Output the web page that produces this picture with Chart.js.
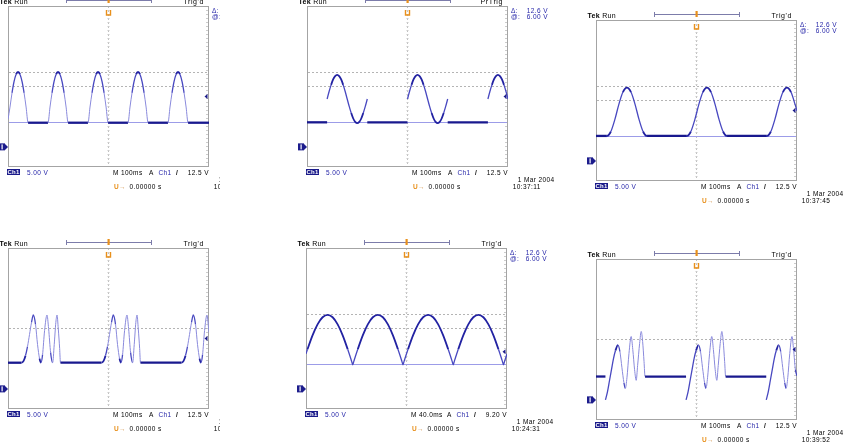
<!DOCTYPE html>
<html><head><meta charset="utf-8">
<script src="https://cdn.jsdelivr.net/npm/chart.js@4.4.0/dist/chart.umd.min.js"></script>
<style>
html,body{margin:0;padding:0;background:#fff;width:844px;height:444px;overflow:hidden;position:relative;}
.panel{position:absolute;overflow:hidden;height:200px;}
.panel canvas{position:absolute;left:0;top:0;}
.t{position:absolute;font-family:'Liberation Sans',Arial,sans-serif;font-size:6.5px;line-height:7px;height:7px;white-space:nowrap;color:#000;letter-spacing:0.4px;}
</style></head><body>
<script>
// ---------------- DATA ----------------
const panelDate = '1 Mar 2004';
const panelTimes = ['10:35:54','10:37:11','10:37:45','10:36:27','10:24:31','10:39:52'];
const trigStatus = ["Trig'd","PrTrig","Trig'd","Trig'd","Trig'd","Trig'd"];
const msPerDiv = [100,100,100,100,40,100];
const timeBaseLabel = ['M 100ms','M 100ms','M 100ms','M 100ms','M 40.0ms','M 100ms'];
const voltsPerDiv = 5.00;
const trigLevel = [12.5,12.5,12.5,12.5,9.20,12.5];
const cursorA = [18.6,18.6,18.6,null,18.6,null];
const cursorB = [6.0,6.0,6.0,null,6.0,null];
const trigPosition = [0,0,0,0,0,0];

// Panel 1: half-wave rectified (time ms, volts)
const p1T = [-500,-490,-480,-470,-460,-450,-440,-430,-420,-410,-400,
  -301,-291,-281,-271,-261,-251,-241,-231,-221,-211,-201,
  -102,-92,-82,-72,-62,-52,-42,-32,-22,-12,-2,
  97,107,117,127,137,147,157,167,177,187,197,
  296,306,316,326,336,346,356,366,376,386,396,500];
const p1V = [6.8,9.9,13.4,16.2,18.0,18.6,18.0,16.2,13.4,9.9,6.0,
  6.0,9.9,13.4,16.2,18.0,18.6,18.0,16.2,13.4,9.9,6.0,
  6.0,9.9,13.4,16.2,18.0,18.6,18.0,16.2,13.4,9.9,6.0,
  6.0,9.9,13.4,16.2,18.0,18.6,18.0,16.2,13.4,9.9,6.0,
  6.0,9.9,13.4,16.2,18.0,18.6,18.0,16.2,13.4,9.9,6.0,6.0];

// Panel 2: gated sine
const p2T = [-500,-400,-400,
  -400,-390,-380,-370,-360,-350,-340,-330,-320,-310,-300,-290,-280,-270,-260,-250,-240,-230,-220,-210,-200,
  -200,-200,0,0,
  0,10,20,30,40,50,60,70,80,90,100,110,120,130,140,150,160,170,180,190,200,
  200,200,400,400,
  400,410,420,430,440,450,460,470,480,490,500];
const p2V = [6.1,6.1,null,
  11.9,13.75,15.4,16.75,17.6,17.9,17.6,16.75,15.4,13.75,11.9,10.05,8.4,7.05,6.2,5.9,6.2,7.05,8.4,10.05,11.9,
  null,6.1,6.1,null,
  11.9,13.75,15.4,16.75,17.6,17.9,17.6,16.75,15.4,13.75,11.9,10.05,8.4,7.05,6.2,5.9,6.2,7.05,8.4,10.05,11.9,
  null,6.1,6.1,null,
  11.9,13.75,15.4,16.75,17.6,17.9,17.6,16.75,15.4,13.75,11.9];

// Panel 3: smooth pulses
const p3T = [-500,-446,-426,-406,-386,-366,-346,-326,-306,-286,-266,-246,
  -48,-28,-8,12,32,52,72,92,112,132,152,
  350,370,390,410,430,450,470,490,500];
const p3V = [6.2,6.2,7.3,10.3,14.1,17.1,18.2,17.1,14.1,10.3,7.3,6.2,
  6.2,7.3,10.3,14.1,17.1,18.2,17.1,14.1,10.3,7.3,6.2,
  6.2,7.3,10.3,14.1,17.1,18.2,17.1,14.1,12.4];

// Panel 4: bursts
const p4T = [-500,
  -433,-423,-413,-403,-393,-383,-374,-363,-353,-343,-336,-328,-318,-306,-298,-288,-278,-270,-262,-256,-250,-243,-239,
  -35,-25,-15,-5,5,15,24,35,45,55,62,70,80,92,100,110,120,128,136,142,148,155,159,
  363,373,383,393,403,413,422,433,443,453,460,468,478,490,498,500];
const p4V = [6.5,
  6.5,6.9,8.25,10.5,13.5,16.5,18.35,16.0,11.0,7.5,6.5,8.5,14.5,18.35,15.0,9.0,6.5,11.0,16.5,18.35,15.0,10.0,6.5,
  6.5,6.9,8.25,10.5,13.5,16.5,18.35,16.0,11.0,7.5,6.5,8.5,14.5,18.35,15.0,9.0,6.5,11.0,16.5,18.35,15.0,10.0,6.5,
  6.5,6.9,8.25,10.5,13.5,16.5,18.35,16.0,11.0,7.5,6.5,8.5,14.5,18.35,15.0,14.0];

// Panel 5: full-wave rectified (40 ms/div)
const p5T = [-200,-197,-187,-177,-167,-157,-147,-137,-127,-117,-109,-107,
  -105,-97,-87,-77,-67,-57,-47,-37,-27,-17,-9,-7,
  -5,3,13,23,33,43,53,63,73,83,91,93,
  95,103,113,123,133,143,153,163,173,183,191,193,
  195,200];
const p5V = [8.7,9.83,13.29,16.03,17.79,18.4,17.79,16.03,13.29,9.83,6.78,6.0,
  6.78,9.83,13.29,16.03,17.79,18.4,17.79,16.03,13.29,9.83,6.78,6.0,
  6.78,9.83,13.29,16.03,17.79,18.4,17.79,16.03,13.29,9.83,6.78,6.0,
  6.78,9.83,13.29,16.03,17.79,18.4,17.79,16.03,13.29,9.83,6.78,6.0,
  6.78,8.7];

// Panel 6: offset bursts
const p6T = [-500,-453,-453,
  -453,-443,-433,-423,-413,-403,-391,-381,-371,-361,-354,-346,-336,-325,-317,-308,-300,-293,-283,-275,-268,-261,-256,
  -52,-52,
  -52,-42,-32,-22,-12,-2,10,20,30,40,47,55,65,76,84,93,101,108,118,126,133,140,145,
  347,347,
  347,357,367,377,387,397,409,419,429,439,446,454,464,475,483,492,500];
const p6V = [5.8,5.8,null,
  0.0,2.0,4.75,7.5,10.25,12.25,13.6,12.0,8.0,4.25,2.85,5.5,11.5,15.75,12.5,7.5,4.85,8.5,14.0,17.0,14.5,9.5,5.8,
  5.8,null,
  0.0,2.0,4.75,7.5,10.25,12.25,13.6,12.0,8.0,4.25,2.85,5.5,11.5,15.75,12.5,7.5,4.85,8.5,14.0,17.0,14.5,9.5,5.8,
  5.8,null,
  0.0,2.0,4.75,7.5,10.25,12.25,13.6,12.0,8.0,4.25,2.85,5.5,11.5,15.75,12.5,7.5,6.0];

const traceT = [p1T,p2T,p3T,p4T,p5T,p6T];
const traceV = [p1V,p2V,p3V,p4V,p5V,p6V];

// ---------------- LAYOUT ----------------
const frames = [
  {L:8,T:6,clip:220},{L:307,T:6,clip:844},{L:596,T:20,clip:844},
  {L:8,T:248,clip:220},{L:306,T:248,clip:844},{L:596,T:259,clip:844}
];
const PADL=10, PADT=10, PADR=12, PADB=4, FW=201, FH=161;
const BLUE='#2424a8', ORANGE='#e8901c';

function segWidth(c){
  const dx=Math.abs(c.p1.x-c.p0.x)||0.01, s=Math.abs(c.p1.y-c.p0.y)/dx;
  return s<0.25?2.3:s<3?1.8:s<6?1.3:1.0;
}
function segColor(c){
  const dx=Math.abs(c.p1.x-c.p0.x)||0.01, s=Math.abs(c.p1.y-c.p0.y)/dx;
  return s<0.25?'#18188e':s<3?'#2222a2':s<6?'#4848c0':'#8a8adc';
}

const scopePlugin = {
  id:'scope',
  beforeDatasetsDraw(chart){
    const o = chart.options.plugins.scope;
    const {ctx, chartArea:a, scales:{x,y}} = chart;
    ctx.save();
    ctx.lineWidth=1;
    // frame
    ctx.strokeStyle='#a4a4a4'; ctx.setLineDash([]);
    ctx.strokeRect(a.left+0.5,a.top+0.5,a.right-a.left-1,a.bottom-a.top-1);
    const cx=Math.floor(x.getPixelForValue((x.min+x.max)/2))+0.5;
    const cy=Math.floor(y.getPixelForValue((y.min+y.max)/2))+0.5;
    // center vertical
    ctx.strokeStyle='#c0c0c0';
    ctx.setLineDash([1,3]);
    ctx.beginPath(); ctx.moveTo(cx,a.top+1); ctx.lineTo(cx,a.bottom-1); ctx.stroke();
    ctx.setLineDash([]);
    ctx.strokeStyle='#cccccc';
    ctx.beginPath();
    for(let v=y.min+1; v<y.max; v+=1){
      const py=Math.floor(y.getPixelForValue(v))+0.5;
      ctx.moveTo(cx-1,py); ctx.lineTo(cx+1,py);
      ctx.moveTo(a.right-3,py); ctx.lineTo(a.right-1,py);
    }
    ctx.stroke();
    // center horizontal
    ctx.strokeStyle='#b4b4b4';
    ctx.setLineDash([2,2]);
    ctx.beginPath(); ctx.moveTo(a.left+1,cy); ctx.lineTo(a.right-1,cy); ctx.stroke();
    // cursors
    if(o.cursorA!=null){
      const py=Math.floor(y.getPixelForValue(o.cursorA))+0.5;
      ctx.beginPath(); ctx.moveTo(a.left+1,py); ctx.lineTo(a.right-1,py); ctx.stroke();
    }
    ctx.setLineDash([]);
    if(o.cursorB!=null){
      const py=Math.floor(y.getPixelForValue(o.cursorB))+0.5;
      ctx.strokeStyle='#9c9ce8';
      ctx.beginPath(); ctx.moveTo(a.left+1,py); ctx.lineTo(a.right-1,py); ctx.stroke();
    }
    ctx.restore();
  },
  afterDatasetsDraw(chart){
    const o = chart.options.plugins.scope;
    const {ctx, chartArea:a, scales:{x,y}} = chart;
    ctx.save();
    // ground marker
    const gy=y.getPixelForValue(0);
    ctx.fillStyle='#1c1c8c';
    ctx.fillRect(a.left-9,gy-3.5,6,7);
    ctx.beginPath(); ctx.moveTo(a.left-3,gy-3); ctx.lineTo(a.left,gy); ctx.lineTo(a.left-3,gy+3); ctx.closePath(); ctx.fill();
    ctx.fillStyle='#ffffff'; ctx.fillRect(a.left-6.5,gy-2.5,1.2,5);
    // trigger level arrow
    const ty=y.getPixelForValue(o.trig);
    ctx.fillStyle='#1c1c8c';
    ctx.beginPath(); ctx.moveTo(a.right-4.5,ty); ctx.lineTo(a.right-1.5,ty-2.5); ctx.lineTo(a.right-1.5,ty+2.5); ctx.closePath(); ctx.fill();
    // trigger position marker
    const tx=Math.floor(x.getPixelForValue(o.trigPos))+0.5;
    ctx.strokeStyle=ORANGE; ctx.lineWidth=1.4;
    ctx.beginPath(); ctx.moveTo(tx-2,a.top+4); ctx.lineTo(tx-2,a.top+9); ctx.lineTo(tx+2,a.top+9); ctx.lineTo(tx+2,a.top+4); ctx.stroke();
    // record bracket
    const by=a.top-5.5;
    ctx.strokeStyle='#7c7caa'; ctx.lineWidth=1;
    ctx.beginPath();
    ctx.moveTo(a.left+58,by); ctx.lineTo(a.left+144,by);
    ctx.moveTo(a.left+58.5,by-2.5); ctx.lineTo(a.left+58.5,by+2.5);
    ctx.moveTo(a.left+143.5,by-2.5); ctx.lineTo(a.left+143.5,by+2.5);
    ctx.stroke();
    ctx.fillStyle=ORANGE;
    ctx.fillRect(tx-1,a.top-9,2.2,6);
    ctx.restore();
  }
};

function addText(wrap, html, fx, fy, opt={}){
  const s=document.createElement('div');
  s.className='t';
  s.innerHTML=html;
  const size=opt.size||6.5;
  s.style.fontSize=size+'px';
  s.style.left=(fx+PADL)+'px';
  s.style.top=(fy+PADT-3.5)+'px';
  if(opt.right) s.style.transform='translateX(-100%)';
  if(opt.color) s.style.color=opt.color;
  if(opt.bold) s.style.fontWeight='bold';
  if(opt.bg){ s.style.background=opt.bg; s.style.padding='0 1px'; s.style.height='6px'; s.style.lineHeight='6px'; s.style.top=(fy+PADT-3)+'px'; }
  if(opt.ls!=null) s.style.letterSpacing=opt.ls+'px';
  wrap.appendChild(s);
}

frames.forEach((f,i)=>{
  const wrap=document.createElement('div');
  wrap.className='panel';
  const wl=f.L-PADL, wt=f.T-PADT;
  wrap.style.left=wl+'px'; wrap.style.top=wt+'px';
  wrap.style.width=Math.min(262, f.clip-wl)+'px';
  document.body.appendChild(wrap);
  const cv=document.createElement('canvas');
  cv.width=PADL+FW+PADR; cv.height=PADT+FH+PADB;
  cv.style.width=cv.width+'px'; cv.style.height=cv.height+'px';
  wrap.appendChild(cv);

  const pts=traceT[i].map((t,k)=>({x:t,y:traceV[i][k]}));
  const half=5*msPerDiv[i];
  new Chart(cv,{
    type:'line',
    data:{datasets:[{data:pts,borderColor:'#2626a6',borderWidth:1.6,pointRadius:0,
      cubicInterpolationMode:'monotone',spanGaps:false,
      segment:{borderColor:segColor,borderWidth:segWidth}}]},
    options:{responsive:false,animation:false,events:[],devicePixelRatio:1,
      layout:{padding:{left:PADL,right:PADR,top:PADT,bottom:PADB}},
      scales:{x:{type:'linear',min:-half,max:half,display:false},
              y:{type:'linear',min:-1*voltsPerDiv,max:7*voltsPerDiv,display:false}},
      plugins:{legend:{display:false},tooltip:{enabled:false},
        scope:{cursorA:cursorA[i],cursorB:cursorB[i],trig:trigLevel[i],trigPos:trigPosition[i]}}},
    plugins:[scopePlugin]
  });

  // texts
  addText(wrap,'<b>Tek</b> Run',-8.5,-4.5,{size:7,ls:0.3});
  addText(wrap,trigStatus[i],196,-4.5,{size:7,right:true,ls:0.6});
  if(cursorA[i]!=null){
    addText(wrap,'Δ:',204,4,{size:6.5,color:BLUE});
    addText(wrap,(cursorA[i]-cursorB[i]).toFixed(1)+' V',241,4,{size:6.5,color:BLUE,right:true});
    addText(wrap,'@:',204,10,{size:6.5,color:BLUE});
    addText(wrap,cursorB[i].toFixed(2)+' V',241,10,{size:6.5,color:BLUE,right:true});
  }
  addText(wrap,'Ch1',-1.5,166,{size:6,color:'#ffffff',bg:'#1a1a8a',bold:true,ls:0.2});
  addText(wrap,voltsPerDiv.toFixed(2)+' V',19,166,{color:BLUE});
  addText(wrap,timeBaseLabel[i],105,166,{});
  addText(wrap,'A',141,166,{});
  addText(wrap,'Ch1',150.5,166,{color:BLUE});
  addText(wrap,'/',168,166,{bold:true});
  addText(wrap,trigLevel[i].toFixed(trigLevel[i]<10?2:1)+' V',201,166,{right:true});
  addText(wrap,'<span style="color:'+ORANGE+';font-weight:bold">U</span><span style="color:#d8a060">→</span>',106,180.5,{});
  addText(wrap,'0.00000 s',121.5,180.5,{});
  addText(wrap,panelDate,210.7,173,{});
  addText(wrap,panelTimes[i],205.7,180.5,{});
});
</script>
</body></html>
